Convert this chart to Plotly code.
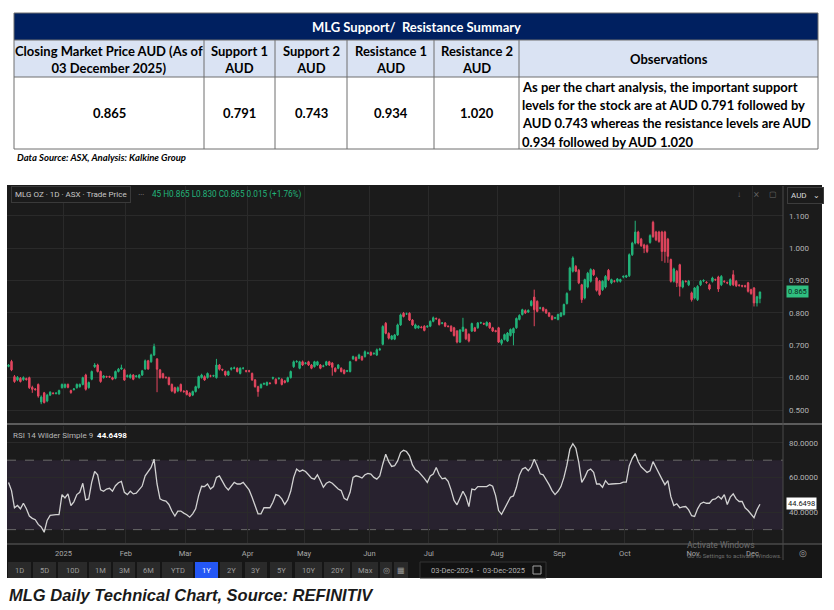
import plotly.graph_objects as go
import pandas as pd

# ---------------- data ----------------
table_title = "MLG Support/  Resistance Summary"
table_headers = ["Closing Market Price AUD (As of<br>03 December 2025)", "Support 1<br>AUD",
                 "Support 2<br>AUD", "Resistance 1<br>AUD", "Resistance 2<br>AUD", "Observations"]
table_values = ["0.865", "0.791", "0.743", "0.934", "1.020"]
observation_lines = ["As per the chart analysis, the important support",
                     "levels for the stock are at AUD 0.791 followed by",
                     "AUD 0.743 whereas the resistance levels are AUD",
                     "0.934 followed by AUD 1.020"]

opens = [.635,.650,.603,.593,.598,.594,.597,.600,.570,.565,
         .579,.525,.553,.528,.546,.552,.551,.550,.569,.570,
         .579,.560,.563,.569,.572,.579,.608,.569,.595,.634,
         .639,.619,.600,.603,.603,.600,.598,.619,.627,.624,
         .603,.600,.608,.603,.600,.608,.627,.652,.649,.670,
         .658,.624,.612,.601,.600,.579,.569,.559,.579,.558,
         .559,.552,.546,.557,.569,.600,.603,.600,.605,.605,
         .600,.639,.625,.619,.608,.626,.629,.629,.613,.629,
         .621,.621,.613,.593,.572,.569,.580,.577,.583,.598,
         .595,.597,.595,.590,.588,.600,.634,.649,.629,.649,
         .644,.649,.639,.634,.639,.639,.635,.639,.649,.645,
         .629,.629,.629,.623,.620,.619,.658,.662,.660,.665,
         .665,.675,.678,.674,.670,.686,.703,.768,.737,.719,
         .719,.732,.763,.799,.797,.799,.778,.753,.754,.756,
         .759,.757,.759,.774,.783,.780,.768,.769,.759,.759,
         .754,.744,.710,.744,.749,.734,.744,.754,.754,.769,
         .767,.761,.769,.754,.745,.754,.706,.718,.713,.730,
         .738,.754,.780,.795,.807,.803,.823,.849,.836,.815,
         .816,.810,.800,.790,.784,.780,.790,.795,.829,.872,
         .929,.944,.932,.887,.846,.880,.898,.932,.908,.898,
         .872,.880,.932,.893,.898,.898,.898,.911,.911,.915,
         .980,1.016,1.050,1.028,1.010,1.008,1.018,1.080,1.050,1.050,
         1.050,1.050,1.028,.965,.898,.929,.949,.880,.898,.887,
         .862,.846,.841,.887,.899,.895,.887,.898,.903,.911,
         .887,.898,.894,.887,.918,.898,.886,.884,.884,.893,
         .872,.877,.831,.845]

highs = [.642,.655,.608,.605,.602,.604,.600,.603,.575,.568,
         .582,.545,.556,.550,.558,.555,.555,.563,.582,.582,
         .582,.563,.568,.582,.582,.603,.612,.588,.622,.645,
         .643,.622,.608,.606,.606,.603,.622,.630,.640,.628,
         .610,.612,.611,.608,.611,.624,.656,.655,.674,.705,
         .660,.627,.615,.604,.603,.582,.572,.573,.582,.561,
         .562,.555,.560,.575,.606,.612,.607,.616,.609,.609,
         .658,.642,.628,.622,.622,.632,.634,.632,.632,.632,
         .624,.624,.616,.596,.575,.582,.585,.588,.586,.603,
         .598,.601,.598,.593,.603,.622,.653,.654,.652,.653,
         .648,.652,.642,.652,.652,.642,.640,.652,.652,.648,
         .632,.642,.632,.626,.624,.652,.668,.666,.674,.668,
         .684,.680,.681,.678,.690,.692,.762,.772,.740,.732,
         .735,.767,.798,.803,.801,.802,.781,.767,.762,.760,
         .762,.762,.777,.789,.786,.783,.772,.772,.762,.762,
         .757,.747,.750,.785,.752,.737,.770,.757,.772,.773,
         .770,.774,.772,.757,.748,.757,.720,.736,.741,.752,
         .755,.786,.796,.813,.811,.811,.840,.872,.839,.819,
         .819,.813,.803,.793,.788,.798,.803,.829,.864,.943,
         .975,.948,.936,.890,.906,.927,.938,.936,.912,.902,
         .901,.917,.936,.906,.902,.908,.906,.916,.918,.984,
         1.020,1.085,1.054,1.032,1.014,1.012,1.043,1.085,1.054,1.054,
         1.054,1.054,1.032,.968,.940,.933,.952,.902,.901,.902,
         .866,.880,.886,.902,.904,.898,.891,.912,.906,.915,
         .917,.901,.897,.907,.932,.902,.889,.887,.887,.896,
         .875,.880,.853,.865]

lows = [.632,.620,.584,.589,.585,.590,.591,.565,.553,.560,
        .538,.518,.520,.524,.543,.548,.548,.547,.566,.567,
        .567,.550,.560,.566,.569,.576,.560,.566,.592,.630,
        .616,.584,.597,.599,.599,.592,.595,.616,.624,.590,
        .600,.597,.592,.600,.597,.605,.624,.624,.646,.667,
        .555,.597,.597,.597,.576,.555,.550,.555,.555,.553,
        .545,.540,.543,.554,.566,.597,.590,.597,.601,.602,
        .597,.622,.620,.604,.605,.622,.626,.616,.610,.625,
        .616,.616,.590,.569,.541,.566,.577,.574,.579,.594,
        .579,.594,.576,.582,.585,.597,.630,.646,.626,.636,
        .641,.636,.626,.631,.636,.626,.632,.636,.636,.606,
        .616,.626,.616,.610,.617,.616,.655,.650,.657,.652,
        .662,.672,.667,.671,.667,.683,.700,.734,.718,.716,
        .716,.729,.760,.786,.794,.775,.760,.750,.751,.752,
        .743,.754,.756,.771,.779,.761,.765,.756,.755,.741,
        .727,.706,.707,.741,.716,.709,.741,.741,.751,.766,
        .763,.758,.751,.741,.740,.707,.700,.715,.710,.727,
        .700,.751,.777,.792,.797,.800,.820,.759,.802,.811,
        .804,.797,.787,.777,.781,.777,.787,.792,.826,.868,
        .925,.926,.889,.831,.842,.876,.894,.914,.866,.853,
        .868,.876,.899,.889,.894,.894,.894,.907,.908,.911,
        .976,1.012,1.012,1.004,.985,.985,1.014,1.032,1.022,1.017,
        .960,.955,.955,.894,.894,.880,.851,.876,.894,.883,
        .835,.842,.837,.883,.895,.890,.870,.894,.899,.865,
        .883,.893,.889,.883,.883,.880,.881,.879,.878,.863,
        .856,.820,.820,.830]

closes = [.638,.624,.588,.601,.588,.600,.594,.569,.564,.563,
          .543,.540,.523,.546,.555,.551,.552,.560,.579,.579,
          .570,.554,.565,.579,.579,.600,.564,.585,.619,.639,
          .619,.588,.605,.603,.602,.595,.619,.626,.630,.593,
          .606,.608,.595,.605,.608,.621,.652,.627,.670,.696,
          .626,.600,.600,.600,.579,.559,.554,.569,.559,.557,
          .548,.543,.557,.572,.603,.608,.593,.613,.605,.606,
          .639,.626,.624,.608,.619,.629,.630,.619,.629,.629,
          .620,.620,.593,.572,.557,.579,.582,.585,.582,.600,
          .582,.598,.579,.585,.600,.619,.649,.650,.649,.639,
          .645,.639,.629,.649,.649,.629,.636,.649,.639,.632,
          .619,.639,.619,.613,.621,.649,.665,.653,.670,.655,
          .680,.676,.670,.675,.686,.688,.758,.737,.722,.729,
          .732,.763,.794,.789,.797,.778,.763,.763,.759,.755,
          .746,.759,.774,.785,.782,.764,.769,.759,.758,.744,
          .730,.710,.747,.756,.720,.713,.767,.744,.769,.770,
          .766,.771,.754,.744,.743,.710,.716,.733,.738,.749,
          .752,.783,.792,.810,.800,.808,.836,.810,.805,.815,
          .807,.800,.790,.780,.785,.795,.800,.826,.860,.939,
          .970,.929,.893,.841,.903,.923,.934,.918,.870,.857,
          .898,.913,.903,.903,.898,.905,.903,.913,.915,.980,
          1.016,1.050,1.016,1.008,1.000,.990,1.039,1.036,1.026,1.021,
          .990,.990,.975,.898,.936,.893,.882,.898,.897,.898,
          .841,.877,.882,.898,.900,.894,.874,.908,.903,.874,
          .913,.897,.893,.903,.887,.884,.885,.883,.882,.867,
          .860,.831,.850,.865]

rsi = [57.2,52.5,42.6,43.9,42.0,45.2,42.0,37.8,36.5,35.7,
       33.0,31.5,28.5,35.3,38.2,38.6,38.6,38.6,50.2,48.3,
       50.6,43.9,46.0,50.2,51.5,56.7,47.1,47.7,57.2,63.5,
       61.6,52.9,52.1,53.4,53.8,52.1,55.3,57.0,57.8,51.5,
       50.2,52.1,50.6,51.0,52.9,55.1,61.0,63.5,65.8,70.6,
       56.3,47.7,46.8,46.4,44.5,40.7,37.8,40.7,40.7,39.5,
       38.6,37.2,39.1,42.0,49.6,55.0,54.8,56.3,53.4,54.8,
       60.1,61.0,57.6,54.8,52.9,54.8,57.2,56.3,56.3,57.2,
       55.3,52.9,48.7,43.9,39.1,39.1,42.6,42.6,42.6,45.8,
       50.2,49.6,47.7,44.5,47.1,52.1,60.1,64.9,63.5,64.3,
       63.5,61.6,59.7,59.1,61.6,58.2,54.4,56.7,57.6,56.7,
       54.8,53.4,52.5,48.1,47.1,51.5,60.1,61.0,60.5,59.7,
       61.6,62.4,62.0,60.1,59.1,61.0,67.7,73.4,69.2,66.4,
       66.8,69.6,74.4,75.7,75.0,72.5,67.3,64.5,63.5,61.8,
       59.5,57.2,60.9,62.0,65.8,61.6,59.3,59.7,57.8,52.9,
       46.8,44.3,48.3,52.1,49.0,43.3,53.4,52.9,54.8,54.8,
       54.8,54.8,55.9,55.0,49.6,41.0,38.8,42.0,45.2,48.7,
       49.4,54.4,61.4,64.9,65.8,63.9,66.2,70.6,66.8,62.2,
       61.6,59.1,55.9,52.5,50.2,52.1,54.8,60.1,67.1,76.3,
       79.5,76.9,68.7,57.2,60.1,63.9,64.9,63.0,56.3,56.3,
       54.4,58.2,56.1,56.3,56.3,56.3,56.7,57.4,57.4,66.8,
       71.1,73.8,69.2,66.2,64.3,63.0,63.9,69.2,65.8,62.0,
       59.1,55.9,58.2,49.0,43.9,44.9,42.6,43.1,43.3,41.4,
       38.0,37.6,42.0,44.9,45.8,45.2,45.2,47.3,47.7,49.2,
       47.7,50.2,44.5,48.7,50.6,47.7,46.2,46.2,42.6,41.0,
       38.8,36.9,41.4,44.6498]

price_ticks = [0.5, 0.6, 0.7, 0.8, 0.9, 1.0, 1.1]
rsi_ticks = [40, 60, 80]
range_buttons = ["1D", "5D", "10D", "1M", "3M", "6M", "YTD", "1Y", "2Y", "3Y", "5Y", "10Y", "20Y", "Max"]

# trading days (ASX) from 03-Dec-2024 to 03-Dec-2025
asx_holidays = pd.to_datetime(["2024-12-25", "2024-12-26", "2025-01-01", "2025-01-27",
                               "2025-04-18", "2025-04-21", "2025-04-25", "2025-06-09"])
days = pd.bdate_range("2024-12-03", "2025-12-03")
days = days[~days.isin(asx_holidays)]
n = len(closes)
idx = list(range(n))

month_vals, month_text = [], []
for i in range(1, min(len(days), n)):
    if days[i].month != days[i - 1].month:
        month_vals.append(i - 0.5)
        month_text.append("2025" if days[i].month == 1 else days[i].strftime("%b"))

# ---------------- layout helpers ----------------
W, H = 834, 610
def px(x): return x / W
def py(y): return 1 - y / H

PANEL = "#1b1b1b"
GRID = "#2a2a2a"
AXT = "#b4b4b4"
GREEN = "#22b47a"
RED = "#e4465f"
UI = "Roboto"
TF = "Lato"

shapes = []
ann = []

def rect(x0, y0, x1, y1, fill, line=None, lw=1, layer="below"):
    shapes.append(dict(type="rect", xref="paper", yref="paper", x0=px(x0), x1=px(x1), y0=py(y0), y1=py(y1),
                       fillcolor=fill, line=dict(color=line or fill, width=lw if line else 0), layer=layer))

def hline(x0, x1, y, color, w=1, dash=None, layer="above"):
    shapes.append(dict(type="line", xref="paper", yref="paper", x0=px(x0), x1=px(x1), y0=py(y), y1=py(y),
                       line=dict(color=color, width=w, dash=dash), layer=layer))

def vline(x, y0, y1, color, w=1, layer="above"):
    shapes.append(dict(type="line", xref="paper", yref="paper", x0=px(x), x1=px(x), y0=py(y0), y1=py(y1),
                       line=dict(color=color, width=w), layer=layer))

def text(x, y, s, size, color, xa="left", fam=UI, ya="middle", bg=None, border=None, pad=0, align="left"):
    d = dict(x=px(x), y=py(y), xref="paper", yref="paper", text=s, showarrow=False, xanchor=xa, yanchor=ya,
             font=dict(size=size, color=color, family=fam), align=align, borderpad=pad)
    if bg:
        d["bgcolor"] = bg
    if border:
        d["bordercolor"] = border
        d["borderwidth"] = 1
    ann.append(d)

# ---------------- table ----------------
col_edges = [14, 204, 275, 347, 434, 519, 818]
T0, T1, T2, T3 = 13, 40, 77, 149
rect(14, T0, 818, T1, "#002060")
rect(14, T1, 818, T2, "#DAE3F3")
rect(14, T2, 818, T3, "#FFFFFF")
BORDER = "#6f6f6f"
for yb in [T0, T1, T2, T3]:
    hline(14, 818, yb, BORDER, 1, layer="below")
for xb in col_edges:
    vline(xb, T0 if xb in (14, 818) else T1, T3, BORDER, 1, layer="below")
text(416, 27, "<b>" + table_title + "</b>", 13, "white", xa="center", fam=TF)
for k, h in enumerate(table_headers):
    cx = (col_edges[k] + col_edges[k + 1]) / 2
    text(cx, 59, "<b>" + h + "</b>", 13, "black", xa="center", fam=TF, align="center")
for k, v in enumerate(table_values):
    cx = (col_edges[k] + col_edges[k + 1]) / 2
    text(cx, 113, "<b>" + v + "</b>", 13, "black", xa="center", fam=TF)
for k, line in enumerate(observation_lines):
    text(521, 87 + k * 18.2, "<b>" + line + "</b>", 13, "black", fam=TF)
text(16, 157, "<b><i>Data Source: ASX, Analysis: Kalkine Group</i></b>", 9.5, "black", fam=TF)

# ---------------- dark chart frame ----------------
rect(7, 185, 822, 578, PANEL)
rect(7, 544, 822, 578, "#161616")
# RSI band
shapes.append(dict(type="rect", xref="paper", yref="y2", x0=px(7), x1=px(783), y0=30, y1=70,
                   fillcolor="#28222f", line=dict(width=0), layer="below"))
for lv in [30, 70]:
    shapes.append(dict(type="line", xref="paper", yref="y2", x0=px(7), x1=px(783), y0=lv, y1=lv,
                       line=dict(color="#6a6a6a", width=1, dash="dash"), layer="below"))
hline(7, 822, 424, "#5c5c5c", 2)
hline(7, 822, 544, "#4a4a4a", 1.5)
vline(783, 186, 560, "#4a4a4a", 1)

# toolbar buttons
btn_edges = [(8, 31), (33, 56), (58, 87), (89, 111), (113, 135), (137, 160), (162, 193), (195, 218),
             (220, 242), (245, 267), (270, 292), (295, 322), (324, 350), (352, 378)]
for lab, (a, b) in zip(range_buttons, btn_edges):
    sel = lab == "1Y"
    rect(a, 562, b, 578, "#2457f5" if sel else "#2a2a2a")
    text((a + b) / 2, 570, lab, 7.5, "white" if sel else "#9a9a9a", xa="center")
rect(380, 562, 392, 578, "#2a2a2a")
text(386, 570, "◎", 8, "#9a9a9a", xa="center")
rect(394, 562, 408, 578, "#2a2a2a")
text(401, 570, "▦", 8, "#9a9a9a", xa="center")
rect(420, 562, 546, 578, "#121212", line="#333333")
text(430, 570, "03-Dec-2024  -  03-Dec-2025", 7.5, "#b0b0b0")
rect(533, 566, 541, 574, "rgba(0,0,0,0)", line="#a0a0a0")

# header overlays
text(11, 194.5, "MLG OZ · 1D · ASX · Trade Price", 8, "#c8c8c8", bg=PANEL, border="#3a3a3a", pad=3)
text(137, 194.5, "∙∙∙", 8, "#8a8a8a")
text(151, 194.5, "45 H0.865 L0.830 C0.865 0.015 (+1.76%)", 8.2, GREEN)
for xi, ic in [(739, "↓"), (756, "⨯"), (773, "▢")]:
    text(xi, 194, ic, 8, "#6a6a6a", xa="center")
text(787, 195, "AUD   ⌄", 8, "#dcdcdc", bg=PANEL, border="#3c3c3c", pad=3)

# last price labels
text(797.5, 291.5, "0.865", 7.5, "#0c2a1c", xa="center", bg="#2fbf80", pad=1)
text(12, 435, "RSI 14 Wilder Simple 9  <b><span style='color:#ffffff'>44.6498</span></b>", 8, "#b8b8b8")
text(801, 503, "44.6498", 7.5, "#111111", xa="center", bg="#ffffff", pad=1)

# watermark
text(686, 545, "Activate Windows", 8.5, "#6f6f6f")
text(686, 555, "Go to Settings to activate Windows.", 6, "#6f6f6f")
text(803, 553, "◎", 9, "#a0a0a0", xa="center")

# caption
text(8, 595, "<b><i>MLG Daily Technical Chart, Source: REFINITIV</i></b>", 16.5, "#1a1a1a", fam="Liberation Sans")

# ---------------- traces ----------------
fig = go.Figure()
fig.add_trace(go.Candlestick(
    x=idx, open=opens, high=highs, low=lows, close=closes,
    increasing=dict(line=dict(color=GREEN, width=1), fillcolor=GREEN),
    decreasing=dict(line=dict(color=RED, width=1), fillcolor=RED),
    whiskerwidth=0, xaxis="x", yaxis="y", showlegend=False))
fig.add_trace(go.Scatter(x=idx, y=rsi, mode="lines", line=dict(color="#d2d2d2", width=1.3),
                         xaxis="x2", yaxis="y2", showlegend=False))

xr = [-0.52, 260.76]
fig.update_layout(
    width=W, height=H, margin=dict(l=0, r=0, t=0, b=0),
    paper_bgcolor="white", plot_bgcolor="rgba(0,0,0,0)", showlegend=False, hovermode=False,
    xaxis=dict(domain=[px(7), px(783)], range=xr, tickvals=month_vals, showticklabels=False,
               showgrid=True, gridcolor=GRID, gridwidth=1, zeroline=False, showline=False,
               rangeslider=dict(visible=False), anchor="y"),
    yaxis=dict(domain=[py(423), py(186)], range=[0.4598, 1.1924], side="right", tickvals=price_ticks,
               tickformat=".3f", showgrid=True, gridcolor=GRID, zeroline=False, showline=False,
               tickfont=dict(size=8, color=AXT, family=UI), ticks="", ticklabelstandoff=5, anchor="x"),
    xaxis2=dict(domain=[px(7), px(783)], range=xr, tickvals=month_vals, ticktext=month_text,
                showgrid=True, gridcolor=GRID, zeroline=False, showline=False, ticks="",
                tickfont=dict(size=7.5, color="#a8a8a8", family=UI), ticklabelstandoff=4, anchor="y2"),
    yaxis2=dict(domain=[py(543), py(426)], range=[22.3, 89.7], side="right", tickvals=rsi_ticks,
                tickformat=".4f", showgrid=True, gridcolor=GRID, zeroline=False, showline=False,
                tickfont=dict(size=8, color=AXT, family=UI), ticks="", ticklabelstandoff=5, anchor="x2"),
    shapes=shapes, annotations=ann,
)

fig.write_html("out.html")
